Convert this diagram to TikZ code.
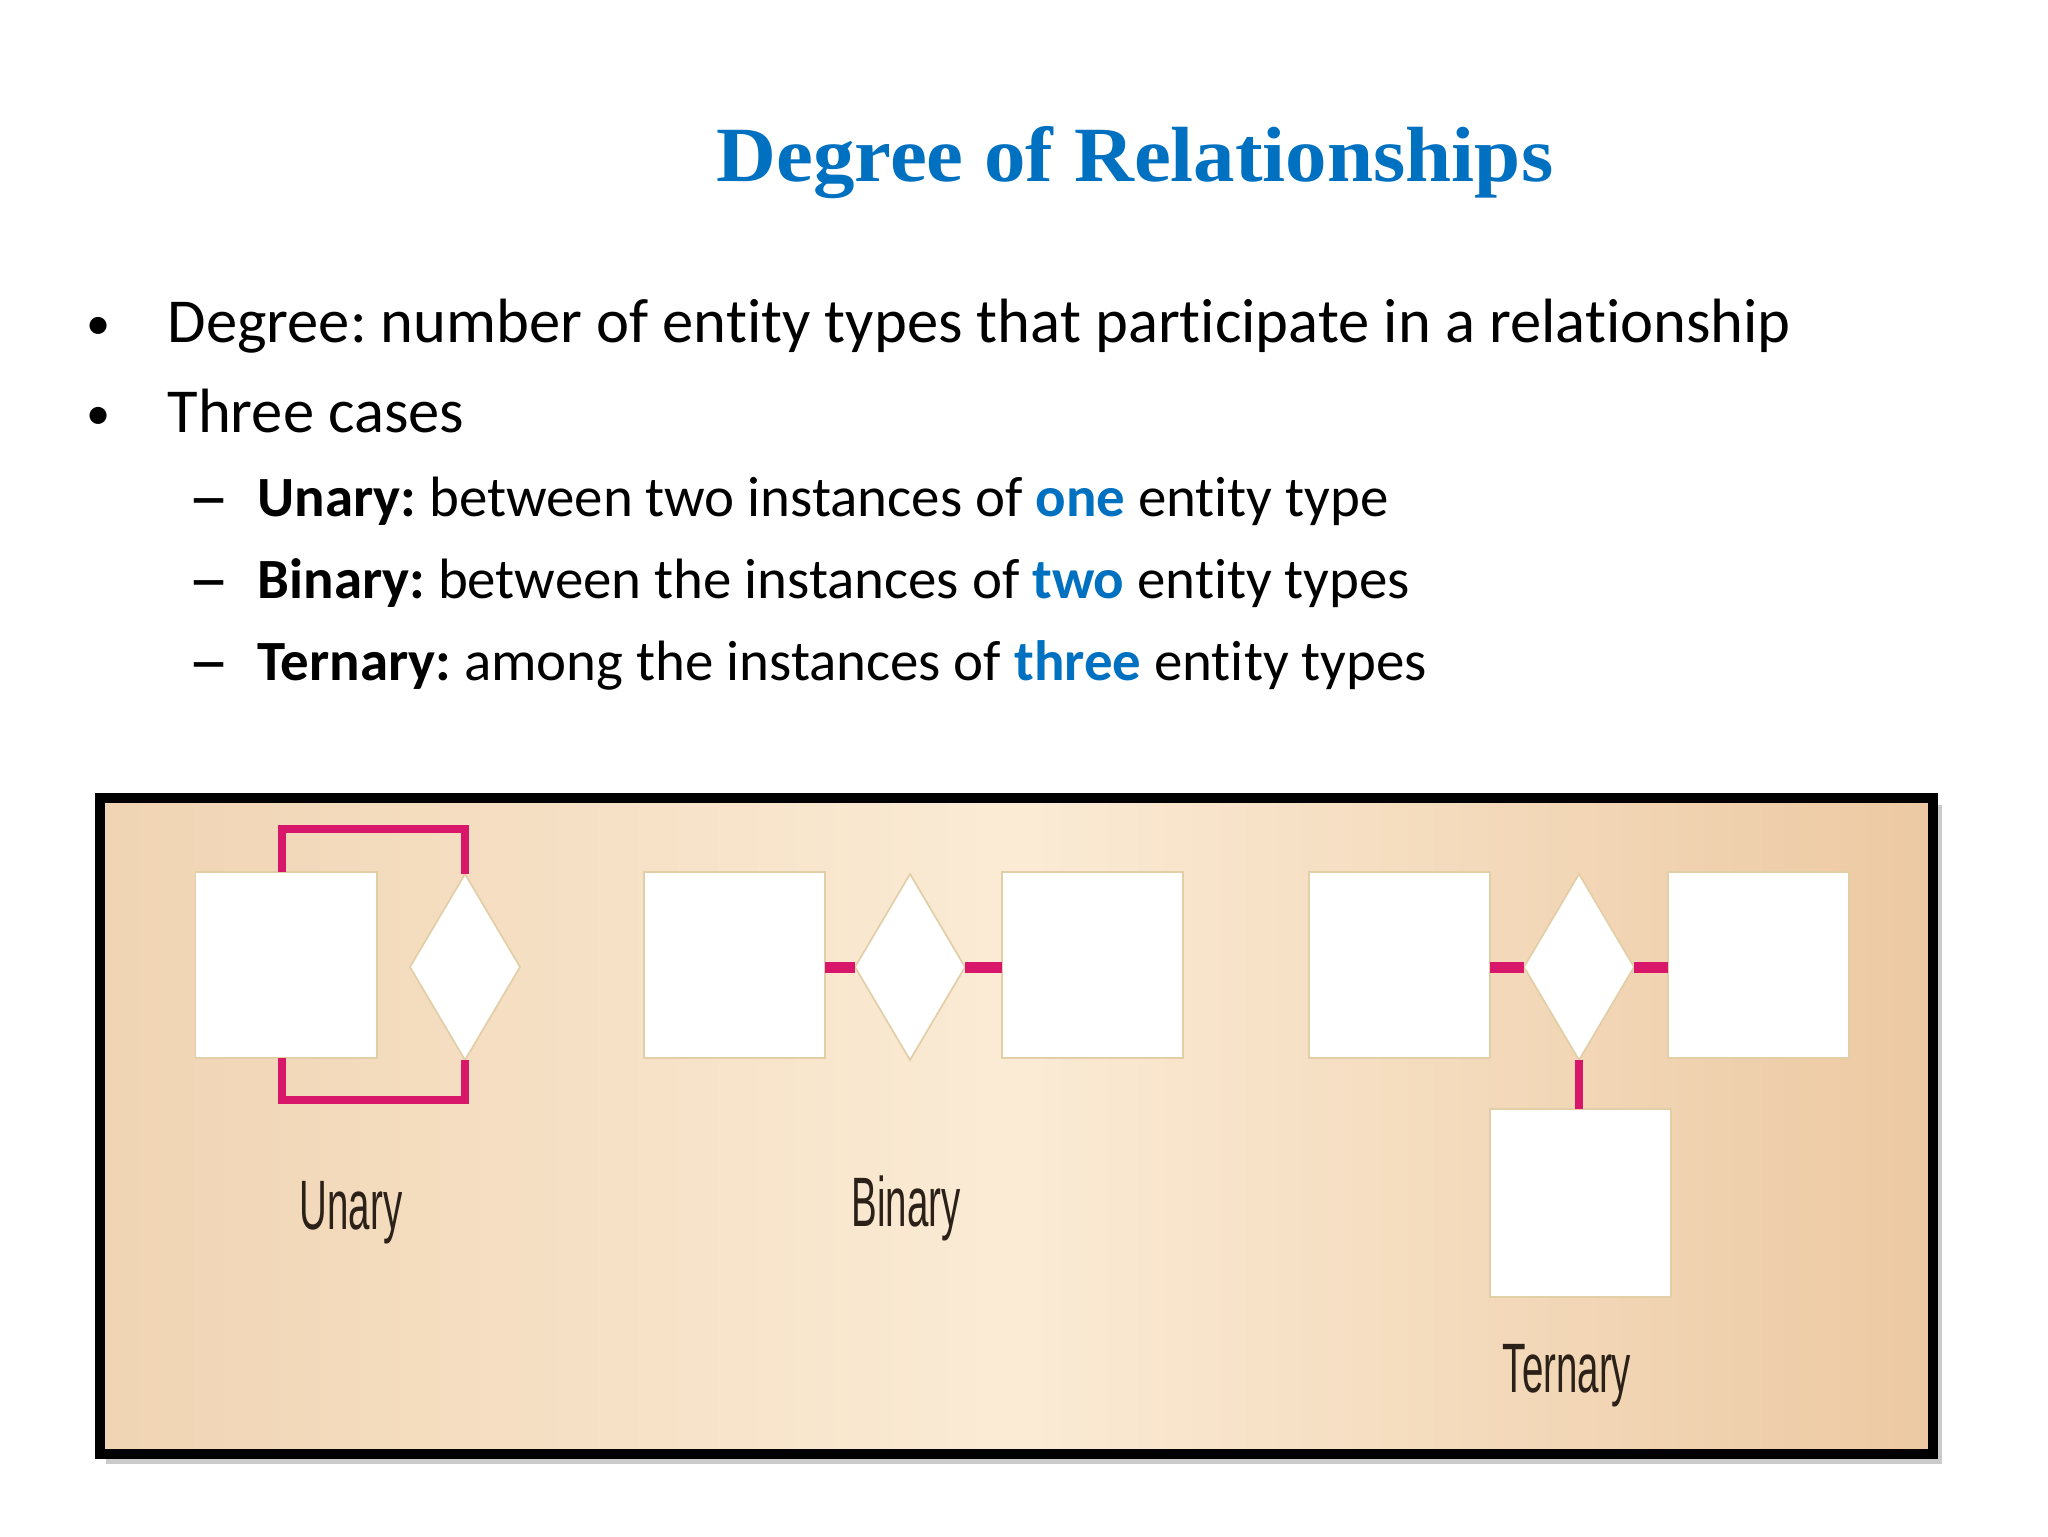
\documentclass[tikz,border=0pt]{standalone}
\usepackage{fontspec}
\setmainfont{Carlito}[Ligatures=NoCommon]
\newfontfamily\titlefont{Liberation Serif}
\newfontfamily\labfont{Liberation Sans}
\usetikzlibrary{shapes.geometric,calc}
\definecolor{titleblue}{HTML}{0070C0}
\definecolor{relpink}{HTML}{D8176B}
\definecolor{tanL}{HTML}{F0D4B3}
\definecolor{tanM}{HTML}{FBEBD5}
\definecolor{tanR}{HTML}{ECC9A2}
\definecolor{boxline}{HTML}{E2CFA8}
\definecolor{labcol}{HTML}{2B2118}
\def\PX{0.3516pt}
\frenchspacing
\begin{document}
\begin{tikzpicture}[x=0.3516pt,y=-0.3516pt,
  entity/.style={draw=boxline, line width=0.7pt, fill=white, minimum width=181*\PX, minimum height=186*\PX, inner sep=0, outer sep=0},
  relship/.style={diamond, draw=boxline, line width=0.6pt, fill=white, minimum width=110*\PX, minimum height=186*\PX, inner sep=0, outer sep=0},
  link/.style={draw=relpink, line width=8*\PX},
  thicklink/.style={draw=relpink, line width=11*\PX},
  caption/.style={font=\labfont\fontsize{24.6}{28}\selectfont, text=labcol, xscale=0.55, anchor=base, inner sep=0},
  bodytext/.style={anchor=base west, inner sep=0, font=\fontsize{22}{26}\selectfont},
  subtext/.style={anchor=base west, inner sep=0, font=\fontsize{20}{24}\selectfont},
  bulletmark/.style={anchor=base, inner sep=0, font=\fontsize{17}{20}\selectfont},
  dashmark/.style={anchor=base, inner sep=0, xscale=1.45, yscale=1.3, font=\fontsize{20}{24}\selectfont}]
\path[use as bounding box] (0,0) rectangle (2048,1536);
\fill[white] (0,0) rectangle (2048,1536);

% title
\node[font=\titlefont\bfseries\fontsize{27.5}{30}\selectfont, text=titleblue, anchor=base, xscale=1.06, inner sep=0] (title) at (1135,181) {Degree of Relationships};

% bullets
\node[bulletmark] (bu1) at (99,339) {•};
\node[bodytext] (l1) at (167,342) {Degree: number of entity types that participate in a relationship};
\node[bulletmark] (bu2) at (99,429) {•};
\node[bodytext] (l2) at (167,432) {Three cases};
\node[dashmark] (d1) at (209,521) {–};
\node[subtext] (s1) at (257,516) {\textbf{Unary:} between two instances of \textbf{\textcolor{titleblue}{one}} entity type};
\node[dashmark] (d2) at (209,603) {–};
\node[subtext] (s2) at (257,598) {\textbf{Binary:} between the instances of \textbf{\textcolor{titleblue}{two}} entity types};
\node[dashmark] (d3) at (209,685) {–};
\node[subtext] (s3) at (257,680) {\textbf{Ternary:} among the instances of \textbf{\textcolor{titleblue}{three}} entity types};

% frame
\fill[black!40, opacity=0.5] (106,805) rectangle (1942,1464);
\shade[left color=tanL, right color=tanR, middle color=tanM] (99.5,797.5) rectangle (1932.5,1453.5);
\draw[line width=10*\PX] (99.5,797.5) rectangle (1932.5,1453.5);

% unary
\node[entity] (uE) at (286,965) {};
\node[relship] (uD) at (465,967) {};
\draw[link] (uE.north west) ++(86,0) -- ++(0,-43) -| (uD.north);
\draw[link] (uE.south west) ++(86,0) -- ++(0,42) -| (uD.south);

% binary
\node[entity] (bA) at (734.5,965) {};
\node[relship] (bD) at (910,967) {};
\node[entity] (bB) at (1092.5,965) {};
\draw[thicklink] (bA.east |- bD.west) -- (bD.west);
\draw[thicklink] (bD.east) -- (bB.west |- bD.east);

% ternary
\node[entity] (tA) at (1399.5,965) {};
\node[relship] (tD) at (1579,967) {};
\node[entity] (tB) at (1758,965) {};
\node[entity, minimum height=188*\PX] (tC) at (1580,1203) {};
\draw[thicklink] (tA.east |- tD.west) -- (tD.west);
\draw[thicklink] (tD.east) -- (tB.west |- tD.east);
\draw[link] (tD.south) -- (tC.north -| tD.south);

% captions
\node[caption] (uL) at (351,1229) {Unary};
\node[caption] (bL) at (906,1226) {Binary};
\node[caption] (tL) at (1567,1392) {Ternary};
\end{tikzpicture}
\end{document}
